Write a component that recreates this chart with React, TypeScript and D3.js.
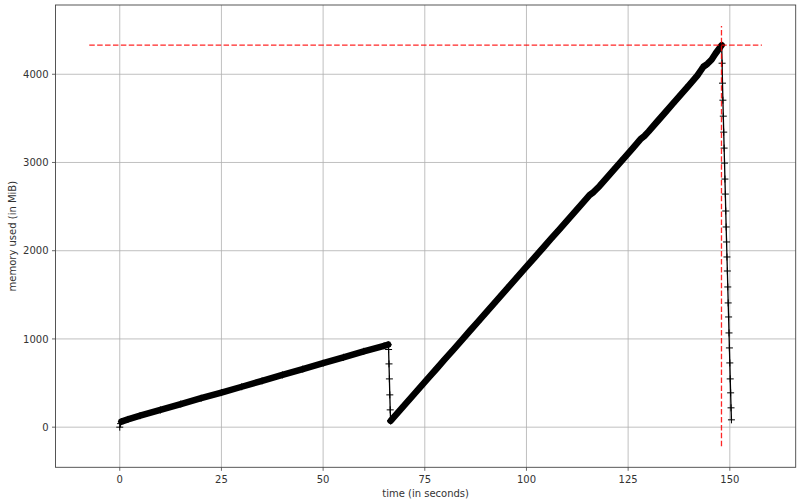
import * as d3 from "d3";

// memory profile samples (seconds, MiB)
const startTimes = [0, 0.2];
const startMem = [0, 40];

const rampATimes = [0.4, 2, 5, 10, 15, 20, 25, 30, 35, 40, 45, 50, 55, 60, 65, 66.0];
const rampAMem = [63, 88, 130, 195, 262, 328, 392, 458, 525, 592, 658, 725, 792, 860, 922, 935];

const drop1Times = [66.1, 66.2, 66.3, 66.4, 66.5, 66.6];
const drop1Mem = [880, 717, 547, 366, 196, 72];

const rampBTimes = [
  66.6, 68, 70, 72, 74, 76, 78, 80, 82, 84, 86, 88, 90, 92, 94, 96, 98, 100, 102, 104, 106, 108, 110, 112, 114,
  115.5, 116.5, 118, 120, 122, 124, 126, 128, 129, 130, 132, 134, 136, 138, 140, 142, 143.5, 144.5, 145.5, 146.5,
  148.0,
];
const rampBMem = [
  72, 145, 250, 354, 459, 564, 668, 773, 877, 982, 1087, 1191, 1296, 1400, 1505, 1610, 1714, 1819, 1923, 2028,
  2133, 2237, 2342, 2447, 2551, 2630, 2665, 2734, 2840, 2945, 3050, 3155, 3262, 3300, 3350, 3456, 3561, 3666,
  3772, 3878, 3985, 4085, 4118, 4165, 4235, 4330,
];

const drop2Times = [
  148.1, 148.2, 148.3, 148.4, 148.5, 148.6, 148.7, 148.8, 148.9, 149.0, 149.1, 149.2, 149.3, 149.4, 149.5,
  149.6, 149.7, 149.8, 149.9, 150.0, 150.1, 150.2, 150.3, 150.4,
];
const drop2Mem = [
  4125, 3899, 3706, 3525, 3344, 3163, 2993, 2812, 2642, 2450, 2269, 2099, 1929, 1770, 1589, 1408, 1249, 1068,
  898, 728, 547, 389, 219, 83,
];

// peak memory markers
const maxMem = 4330;
const maxTime = 147.95;
const hlineExtent = [-7.5, 157.9];
const vlineExtent = [-216, 4546];

const xTicks = [0, 25, 50, 75, 100, 125, 150];
const yTicks = [0, 1000, 2000, 3000, 4000];
const xDomain = [-15.8, 166.2];
const yDomain = [-455, 4785];

const W = 800;
const H = 503;
const M = { left: 55.5, right: 4.3, top: 5, bottom: 35.7 };

const font = "'DejaVu Sans', sans-serif";

export default function App() {
  const x = d3.scaleLinear().domain(xDomain).range([M.left, W - M.right]);
  const y = d3.scaleLinear().domain(yDomain).range([H - M.bottom, M.top]);

  const toPts = (ts: number[], ms: number[]) => ts.map((t, i) => [t, ms[i]] as [number, number]);
  const all = [
    ...toPts(startTimes, startMem),
    ...toPts(rampATimes, rampAMem),
    ...toPts(drop1Times, drop1Mem),
    ...toPts(rampBTimes, rampBMem),
    ...toPts(drop2Times, drop2Mem),
  ];
  const line = d3
    .line<[number, number]>()
    .x((d) => x(d[0]))
    .y((d) => y(d[1]));

  const x0 = M.left;
  const x1 = W - M.right;
  const y0 = H - M.bottom;
  const y1 = M.top;

  return (
    <svg width={W} height={H} style={{ position: "absolute", left: 0, top: 0, background: "#fff" }}>
      {/* grid */}
      <g stroke="#b0b0b0" strokeWidth={0.8}>
        {xTicks.map((t) => (
          <line key={"gx" + t} x1={x(t)} x2={x(t)} y1={y0} y2={y1} />
        ))}
        {yTicks.map((t) => (
          <line key={"gy" + t} x1={x0} x2={x1} y1={y(t)} y2={y(t)} />
        ))}
      </g>

      {/* memory trace */}
      <g fill="none" stroke="#000" strokeLinejoin="round" strokeLinecap="round">
        <path d={line(toPts(rampATimes, rampAMem)) ?? ""} strokeWidth={6.5} />
        <path d={line(toPts(rampBTimes, rampBMem)) ?? ""} strokeWidth={6.5} />
        <path d={line(all) ?? ""} strokeWidth={1.3} />
        {all.map((d, i) => (
          <path
            key={i}
            d={`M${x(d[0]) - 3.5},${y(d[1])}h7M${x(d[0])},${y(d[1]) - 3.5}v7`}
            strokeWidth={1}
            strokeLinecap="butt"
          />
        ))}
      </g>

      {/* max memory lines */}
      <g stroke="#ff0000" strokeWidth={1.3} strokeDasharray="5.5,2.4" opacity={0.85}>
        <line x1={x(hlineExtent[0])} x2={x(hlineExtent[1])} y1={y(maxMem)} y2={y(maxMem)} />
        <line x1={x(maxTime)} x2={x(maxTime)} y1={y(vlineExtent[0])} y2={y(vlineExtent[1])} />
      </g>

      {/* spines */}
      <rect x={x0} y={y1} width={x1 - x0} height={y0 - y1} fill="none" stroke="#444" strokeWidth={0.9} />

      {/* ticks */}
      <g fill="#333" fontFamily={font} fontSize={10}>
        {xTicks.map((t) => (
          <g key={"tx" + t}>
            <line x1={x(t)} x2={x(t)} y1={y0} y2={y0 + 3.5} stroke="#444" strokeWidth={0.8} />
            <text x={x(t)} y={y0 + 15.5} textAnchor="middle">
              {t}
            </text>
          </g>
        ))}
        {yTicks.map((t) => (
          <g key={"ty" + t}>
            <line x1={x0 - 3.5} x2={x0} y1={y(t)} y2={y(t)} stroke="#444" strokeWidth={0.8} />
            <text x={x0 - 7} y={y(t) + 3.6} textAnchor="end">
              {t}
            </text>
          </g>
        ))}
        <text x={(x0 + x1) / 2} y={497} textAnchor="middle">
          time (in seconds)
        </text>
        <text transform={`translate(15.5,${(y0 + y1) / 2}) rotate(-90)`} textAnchor="middle">
          memory used (in MiB)
        </text>
      </g>
    </svg>
  );
}
